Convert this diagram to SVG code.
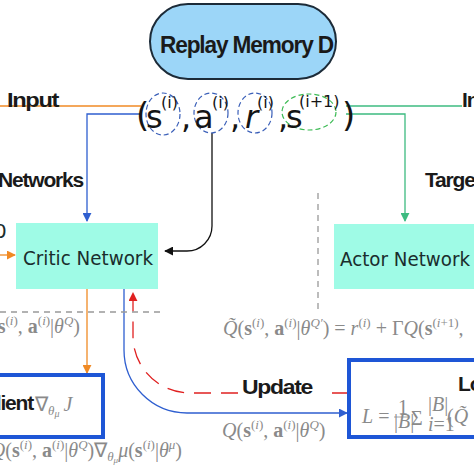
<svg xmlns="http://www.w3.org/2000/svg" width="474" height="474" viewBox="0 0 474 474">
<style>
.lbl{font-family:"Liberation Sans",Arial,sans-serif;font-weight:bold;fill:#1a1a1a;letter-spacing:-1.2px}
.net{font-family:"DejaVu Sans",Verdana,sans-serif;fill:#1a2d2d;font-size:20px}
.tup{font-family:"DejaVu Sans",Verdana,sans-serif;fill:#151515}
.math{font-family:"Liberation Serif","Times New Roman",serif;fill:#8a8a8a;font-size:20px}
.it{font-style:italic}
.bf{font-weight:bold}
.sm{font-size:13px}
.box{fill:#fff;stroke:#1e56d6;stroke-width:4}
.nn{fill:#9ffbe6}
.ln{fill:none;stroke-width:1.3}
</style>
<defs>
<marker id="mb" viewBox="0 0 10 10" refX="9" refY="5" markerWidth="9" markerHeight="9" markerUnits="userSpaceOnUse" orient="auto"><path d="M0,0 L10,5 L0,10 z" fill="#2f5fd0"/></marker>
<marker id="mo" viewBox="0 0 10 10" refX="9" refY="5" markerWidth="9" markerHeight="9" markerUnits="userSpaceOnUse" orient="auto"><path d="M0,0 L10,5 L0,10 z" fill="#f08a24"/></marker>
<marker id="mg" viewBox="0 0 10 10" refX="9" refY="5" markerWidth="9" markerHeight="9" markerUnits="userSpaceOnUse" orient="auto"><path d="M0,0 L10,5 L0,10 z" fill="#3dbb80"/></marker>
<marker id="mk" viewBox="0 0 10 10" refX="9" refY="5" markerWidth="9" markerHeight="9" markerUnits="userSpaceOnUse" orient="auto"><path d="M0,0 L10,5 L0,10 z" fill="#111"/></marker>
<marker id="mr" viewBox="0 0 10 10" refX="9" refY="5" markerWidth="9" markerHeight="9" markerUnits="userSpaceOnUse" orient="auto"><path d="M0,0 L10,5 L0,10 z" fill="#e02020"/></marker>
</defs>
<rect width="474" height="474" fill="#fff"/>

<g id="connectors">
<line x1="0" y1="106" x2="141" y2="106" class="ln" stroke="#f08a24"/>
<line x1="0" y1="255" x2="15" y2="255" class="ln" stroke="#f08a24" marker-end="url(#mo)"/>
<line x1="87" y1="289" x2="87" y2="373" class="ln" stroke="#f08a24" marker-end="url(#mo)"/>
<path d="M141,114 H87 V221" class="ln" stroke="#2f5fd0" marker-end="url(#mb)"/>
<path d="M124,289 V350 A63,63 0 0 0 187,413 H347" class="ln" stroke="#2f5fd0" marker-end="url(#mb)"/>
<path d="M212,133 V226 A25,25 0 0 1 187,251 H165" class="ln" stroke="#111" marker-end="url(#mk)"/>
<line x1="346" y1="106" x2="462" y2="106" class="ln" stroke="#3dbb80"/>
<path d="M346,114 H405 V221" class="ln" stroke="#3dbb80" marker-end="url(#mg)"/>
<path d="M349,393 H326 M238,393 H190 A57,57 0 0 1 133,336 V293" class="ln" stroke="#e02020" stroke-dasharray="17,10" marker-end="url(#mr)"/>
<line x1="0" y1="312" x2="163" y2="312" stroke="#999" stroke-width="1.3" stroke-dasharray="6,5"/>
<line x1="318" y1="193" x2="318" y2="314" stroke="#999" stroke-width="1.3" stroke-dasharray="6,5"/>
</g>

<g id="replay">
<rect x="150" y="4" width="186" height="75" rx="38" fill="#9cd6f8" stroke="#1c2b38" stroke-width="2"/>
<text x="160" y="53" class="lbl" font-size="24" textLength="173" lengthAdjust="spacingAndGlyphs">Replay Memory D</text>
</g>

<g id="tuple">
<ellipse cx="163" cy="114" rx="17" ry="21" fill="none" stroke="#3a5fb8" stroke-width="1.2" stroke-dasharray="5,3"/>
<ellipse cx="211" cy="113" rx="17" ry="20" fill="none" stroke="#3a5fb8" stroke-width="1.2" stroke-dasharray="5,3"/>
<ellipse cx="255" cy="113" rx="17" ry="20" fill="none" stroke="#3a5fb8" stroke-width="1.2" stroke-dasharray="5,3"/>
<ellipse cx="309" cy="112" rx="27" ry="18" fill="none" stroke="#3dbb55" stroke-width="1.2" stroke-dasharray="5,3"/>
<text class="tup" font-size="34" x="136" y="127">(</text>
<text class="tup" font-size="32" x="146" y="128">s</text>
<text class="tup" font-size="16" x="161" y="108">(i)</text>
<text class="tup" font-size="32" x="181" y="128">,</text>
<text class="tup" font-size="32" x="194" y="128">a</text>
<text class="tup" font-size="16" x="212" y="108">(i)</text>
<text class="tup" font-size="32" x="230" y="128">,</text>
<text class="tup" font-size="32" x="245" y="128" font-style="italic">r</text>
<text class="tup" font-size="16" x="257" y="108">(i)</text>
<text class="tup" font-size="32" x="278" y="128">,</text>
<text class="tup" font-size="32" x="286" y="128">s</text>
<text class="tup" font-size="16" x="299" y="107">(i+1)</text>
<text class="tup" font-size="34" x="342" y="127">)</text>
</g>

<g id="labels">
<text x="7" y="107" class="lbl" font-size="21" textLength="51" lengthAdjust="spacingAndGlyphs">Input</text>
<text x="462" y="107" class="lbl" font-size="21">Input</text>
<text x="83" y="187" class="lbl" font-size="21" text-anchor="end">Networks</text>
<text x="425" y="187" class="lbl" font-size="21">Target</text>
<text x="-6" y="238" class="net" font-size="18">0</text>
<text x="242" y="394" class="lbl" font-size="21" textLength="70" lengthAdjust="spacingAndGlyphs">Update</text>
</g>

<g id="critic">
<rect x="16" y="223" width="142" height="66" class="nn"/>
<text x="23" y="265" class="net" textLength="130" lengthAdjust="spacingAndGlyphs">Critic Network</text>
</g>

<g id="actor">
<rect x="334" y="224" width="145" height="65" class="nn"/>
<text x="340" y="266" class="net" textLength="130" lengthAdjust="spacingAndGlyphs">Actor Network</text>
</g>

<g id="gradient">
<rect x="-6" y="375" width="109" height="62" class="box"/>
<text x="33" y="410" class="lbl" font-size="21" text-anchor="end">Gradient</text>
<text x="35" y="411" class="math" font-size="22">∇<tspan class="it sm" dy="4">θ</tspan><tspan class="it" font-size="10" dy="2">μ</tspan><tspan class="it" dy="-6" dx="4">J</tspan></text>
</g>

<g id="loss">
<rect x="349" y="360" width="130" height="77" class="box"/>
<text x="458" y="391" class="lbl" font-size="21">Loss</text>
<text x="362" y="423" class="math" font-size="19"><tspan class="it">L</tspan> =</text>
<text x="398" y="414" class="math" font-size="9">1</text>
<line x1="394" y1="417" x2="408" y2="417" stroke="#8a8a8a" stroke-width="0.8"/>
<text x="394" y="428" class="math" font-size="9">|<tspan class="it">B</tspan>|</text>
<text x="411" y="425" class="math" font-size="20">Σ</text>
<text x="428" y="411" class="math" font-size="9">|<tspan class="it">B</tspan>|</text>
<text x="428" y="431" class="math" font-size="9"><tspan class="it">i</tspan>=1</text>
<text x="447" y="423" class="math" font-size="19">(<tspan class="it">Q̃</tspan></text>
</g>

<g id="formulas">
<text x="223" y="335" class="math"><tspan class="it">Q̃</tspan>(<tspan class="bf">s</tspan><tspan class="sm" dy="-8">(<tspan class="it">i</tspan>)</tspan><tspan dy="8">, </tspan><tspan class="bf">a</tspan><tspan class="sm" dy="-8">(<tspan class="it">i</tspan>)</tspan><tspan dy="8">|</tspan><tspan class="it">θ</tspan><tspan class="sm it" dy="-8">Q′</tspan><tspan dy="8">) = </tspan><tspan class="it">r</tspan><tspan class="sm" dy="-8">(<tspan class="it">i</tspan>)</tspan><tspan dy="8"> + Γ</tspan><tspan class="it">Q</tspan>(<tspan class="bf">s</tspan><tspan class="sm" dy="-8">(<tspan class="it">i</tspan>+1)</tspan><tspan dy="8">,</tspan></text>
<text x="80" y="333" class="math" text-anchor="end"><tspan class="it">Q</tspan>(<tspan class="bf">s</tspan><tspan class="sm" dy="-8">(<tspan class="it">i</tspan>)</tspan><tspan dy="8">, </tspan><tspan class="bf">a</tspan><tspan class="sm" dy="-8">(<tspan class="it">i</tspan>)</tspan><tspan dy="8">|</tspan><tspan class="it">θ</tspan><tspan class="sm it" dy="-8">Q</tspan><tspan dy="8">)</tspan></text>
<text x="222" y="437" class="math"><tspan class="it">Q</tspan>(<tspan class="bf">s</tspan><tspan class="sm" dy="-8">(<tspan class="it">i</tspan>)</tspan><tspan dy="8">, </tspan><tspan class="bf">a</tspan><tspan class="sm" dy="-8">(<tspan class="it">i</tspan>)</tspan><tspan dy="8">|</tspan><tspan class="it">θ</tspan><tspan class="sm it" dy="-8">Q</tspan><tspan dy="8">)</tspan></text>
<text x="182" y="457" class="math" text-anchor="end"><tspan class="it">Q</tspan>(<tspan class="bf">s</tspan><tspan class="sm" dy="-8">(<tspan class="it">i</tspan>)</tspan><tspan dy="8">, </tspan><tspan class="bf">a</tspan><tspan class="sm" dy="-8">(<tspan class="it">i</tspan>)</tspan><tspan dy="8">|</tspan><tspan class="it">θ</tspan><tspan class="sm it" dy="-8">Q</tspan><tspan dy="8">)∇</tspan><tspan class="it sm" dy="4">θ</tspan><tspan class="it" font-size="9" dy="2">μ</tspan><tspan class="it" dy="-6">μ</tspan>(<tspan class="bf">s</tspan><tspan class="sm" dy="-8">(<tspan class="it">i</tspan>)</tspan><tspan dy="8">|</tspan><tspan class="it">θ</tspan><tspan class="sm it" dy="-8">μ</tspan><tspan dy="8">)</tspan></text>
</g>
</svg>
